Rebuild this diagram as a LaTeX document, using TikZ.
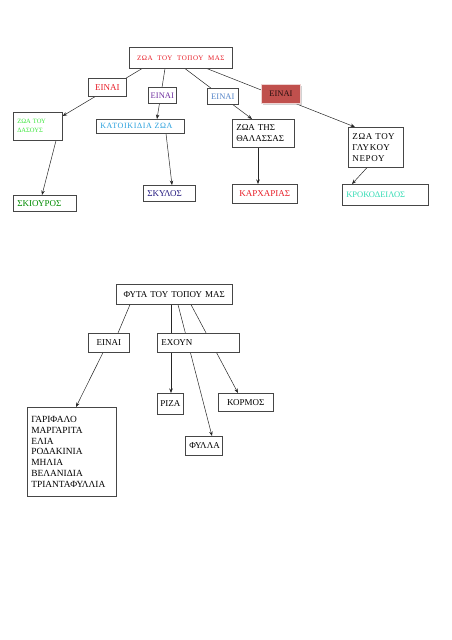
\documentclass[tikz,border=0pt]{standalone}
\usepackage{fontspec}
\setmainfont{Liberation Serif}
\newfontfamily\wide[LetterSpace=8]{Liberation Serif}
\usetikzlibrary{calc,arrows.meta,shadows}
\pgfdeclarelayer{bg}
\pgfsetlayers{bg,main}

\definecolor{boxgray}{RGB}{70,70,70}
\definecolor{zred}{RGB}{232,32,42}
\definecolor{zpurple}{RGB}{112,48,160}
\definecolor{zblue}{RGB}{84,132,200}
\definecolor{zfill}{RGB}{192,80,77}
\definecolor{zlgreen}{RGB}{60,230,60}
\definecolor{zcyan}{RGB}{40,160,222}
\definecolor{zgreen}{RGB}{0,140,0}
\definecolor{znavy}{RGB}{40,30,130}
\definecolor{zturq}{RGB}{50,220,180}

\tikzset{
 box/.style={draw=boxgray, line width=0.6pt, fill=white, anchor=north west,
  inner xsep=4pt, inner ysep=0pt, align=left, font=\fontsize{9}{10.8}\selectfont},
 cbox/.style={box, align=center},
 tight/.style={cbox, inner xsep=1pt},
 link/.style={draw=black!85, line width=0.5pt},
 arr/.style={link, -{Stealth[length=4.5pt,width=3.5pt]}},
}

\begin{document}
\begin{tikzpicture}[x=1pt,y=-1pt]
 \useasboundingbox (0,0) rectangle (452,640);

 \node[cbox, text width=95pt, minimum height=21pt, text=zred, font=\wide\fontsize{7}{8}\selectfont]
  (zoa) at (129,47) {ΖΩΑ\ \ ΤΟΥ\ \ ΤΟΠΟΥ\ \ ΜΑΣ};
 \node[tight, text width=36pt, minimum height=18pt, text=zred] (einaiA) at (88,78) {ΕΙΝΑΙ};
 \node[tight, text width=26pt, minimum height=16pt, text=zpurple, font=\fontsize{8.5}{10}\selectfont]
  (einaiB) at (148,87) {ΕΙΝΑΙ};
 \node[tight, text width=29pt, minimum height=16pt, text=zblue, font=\fontsize{8.5}{10}\selectfont]
  (einaiC) at (207,88) {ΕΙΝΑΙ};
 \node[tight, text width=37pt, minimum height=19pt, fill=zfill, draw=white!75!zfill, line width=1pt,
  drop shadow={shadow xshift=1.2pt, shadow yshift=-1.2pt, fill=black!35},
  text=black!80!zfill, font=\fontsize{8.5}{10}\selectfont] (einaiD) at (261,84) {ΕΙΝΑΙ};

 \node[box, text width=41pt, minimum height=28pt, text=zlgreen, font=\fontsize{6.5}{9}\selectfont]
  (dasos) at (13,112) {ΖΩΑ ΤΟΥ\\ΔΑΣΟΥΣ};
 \node[box, text width=80pt, minimum height=14pt, text=zcyan, font=\wide\fontsize{8}{9}\selectfont]
  (katoik) at (96,119) {ΚΑΤΟΙΚΙΔΙΑ ΖΩΑ};
 \node[box, text width=54pt, minimum height=28pt] (thal) at (232,119) {ΖΩΑ ΤΗΣ\\ΘΑΛΑΣΣΑΣ};
 \node[box, text width=47pt, minimum height=40pt, font=\wide\fontsize{9}{10.8}\selectfont]
  (glyk) at (348,127) {ΖΩΑ ΤΟΥ\\ΓΛΥΚΟΥ\\ΝΕΡΟΥ};

 \node[box, text width=55pt, minimum height=16pt, text=zgreen] (skiour) at (13,195) {ΣΚΙΟΥΡΟΣ};
 \node[box, text width=44pt, minimum height=16pt, text=znavy] (skyl) at (143,185) {ΣΚΥΛΟΣ};
 \node[cbox, text width=57pt, minimum height=19pt, text=zred] (karch) at (232,184) {ΚΑΡΧΑΡΙΑΣ};
 \node[box, text width=78pt, minimum height=21pt, text=zturq, font=\fontsize{8.5}{10}\selectfont]
  (krok) at (342,184) {ΚΡΟΚΟΔΕΙΛΟΣ};

 \node[cbox, text width=108pt, minimum height=20pt] (fyta) at (116,284) {ΦΥΤΑ ΤΟΥ ΤΟΠΟΥ ΜΑΣ};
 \node[cbox, text width=33pt, minimum height=19pt] (einaiE) at (88,333) {ΕΙΝΑΙ};
 \node[box, text width=74pt, minimum height=19pt] (exoun) at (157,333) {ΕΧΟΥΝ};
 \node[tight, text width=24pt, minimum height=21pt] (riza) at (157,393) {ΡΙΖΑ};
 \node[cbox, text width=47pt, minimum height=18pt] (korm) at (218,393) {ΚΟΡΜΟΣ};
 \node[cbox, text width=29pt, minimum height=19pt] (fyll) at (185,436) {ΦΥΛΛΑ};
 \node[box, text width=81pt, minimum height=89pt, font=\fontsize{9.4}{10.8}\selectfont] (list) at (27,407)
  {ΓΑΡΙΦΑΛΟ\\ΜΑΡΓΑΡΙΤΑ\\ΕΛΙΑ\\ΡΟΔΑΚΙΝΙΑ\\ΜΗΛΙΑ\\ΒΕΛΑΝΙΔΙΑ\\ΤΡΙΑΝΤΑΦΥΛΛΙΑ};

 \begin{pgfonlayer}{bg}
  \draw[arr] ($(zoa.south west)+(13,0)$) -- ($(dasos.north east)+(0,4)$);
  \draw[arr] ($(zoa.south west)+(36,0)$) -- ($(katoik.north west)+(61,0)$);
  \draw[arr] ($(zoa.south west)+(56,0)$) -- ($(thal.north west)+(20,0)$);
  \draw[arr] ($(zoa.south west)+(78,0)$) -- ($(glyk.north west)+(7,0)$);
  \draw[arr] ($(dasos.south west)+(43,0)$) -- ($(skiour.north west)+(29,0)$);
  \draw[arr] ($(katoik.south west)+(70,0)$) -- ($(skyl.north west)+(29,0)$);
  \draw[arr] ($(thal.south west)+(26,0)$) -- ($(karch.north west)+(26,0)$);
  \draw[arr] ($(glyk.south west)+(19,0)$) -- ($(krok.north west)+(10,0)$);

  \draw[link] ($(fyta.south west)+(14,0)$) -- ($(einaiE.north west)+(30,0)$);
  \draw[arr] ($(einaiE.south west)+(15,0)$) -- ($(list.north west)+(49,0)$);
  \draw[arr] ($(fyta.south west)+(55,0)$) -- ($(riza.north west)+(14,0)$);
  \draw[arr] ($(fyta.south west)+(62,0)$) -- ($(fyll.north west)+(27,0)$);
  \draw[arr] ($(fyta.south west)+(75,0)$) -- ($(korm.north west)+(20,0)$);
 \end{pgfonlayer}
\end{tikzpicture}
\end{document}
